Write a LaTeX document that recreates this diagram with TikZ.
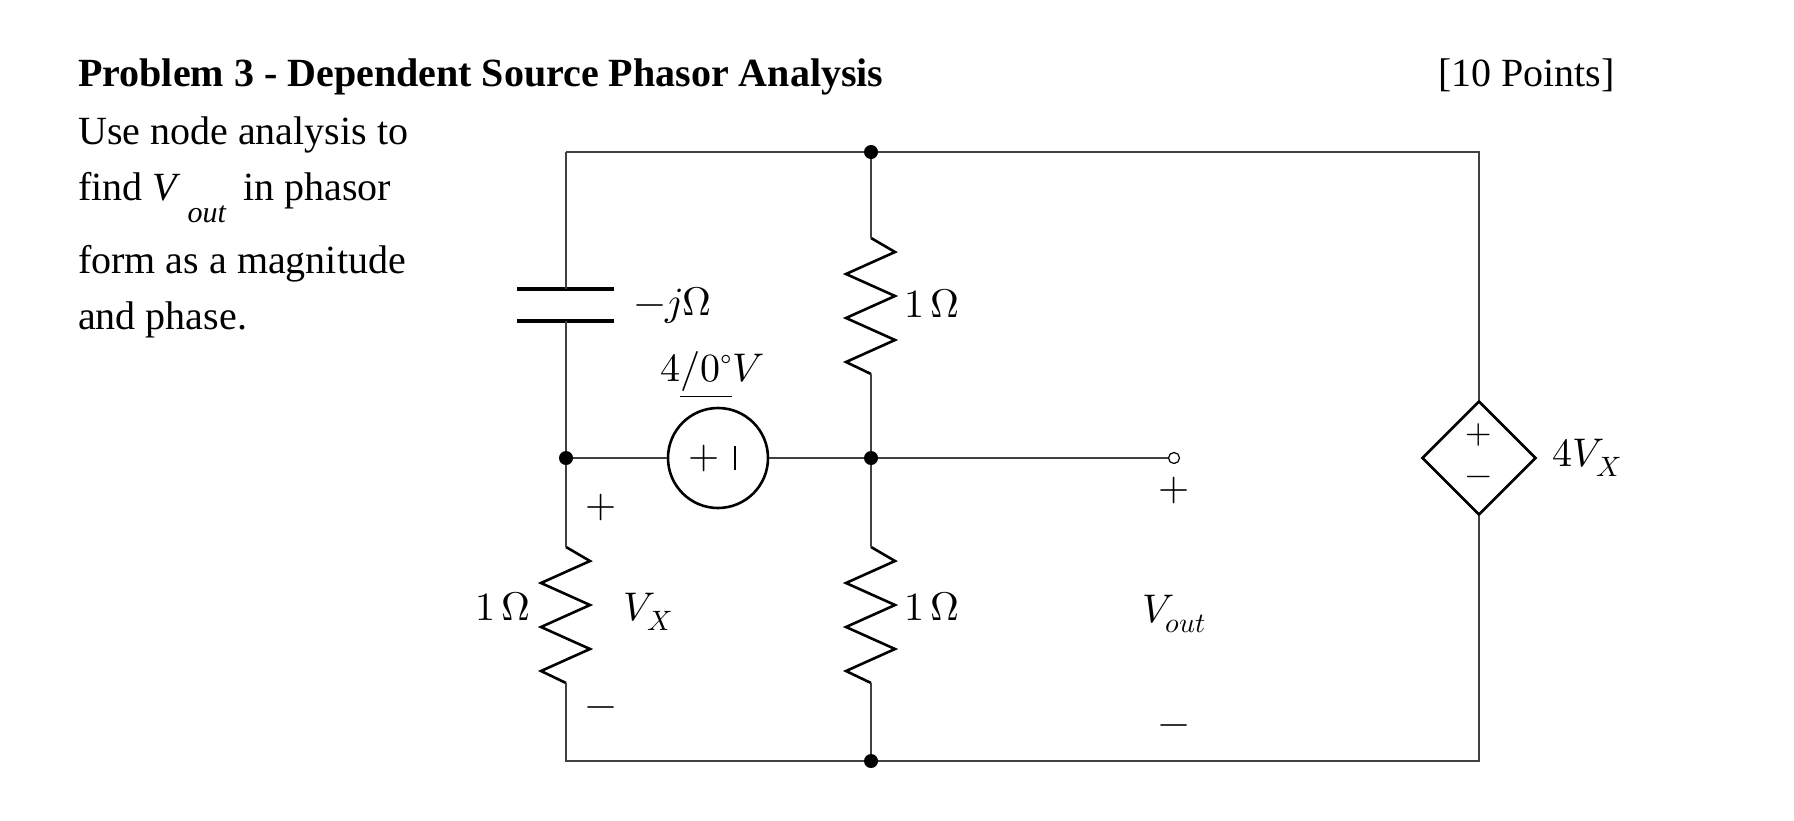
\documentclass[tikz,border=0pt]{standalone}
\usepackage{fontspec}
\setmainfont{Liberation Serif}
\usepackage{unicode-math}
\setmathfont{Latin Modern Math}
\usetikzlibrary{shapes.geometric}
\begin{document}
\begin{tikzpicture}[x=1pt,y=-1pt,
  wire/.style={line width=1.3pt,black!75},
  comp/.style={line width=2.6pt,black},
  dot/.style={circle,fill=black,inner sep=0pt,minimum size=14pt},
  lab/.style={font=\fontsize{40}{44}\selectfont,inner sep=0pt},
  txt/.style={font=\fontsize{40}{44}\selectfont,anchor=base west,inner sep=0pt}]
\useasboundingbox (0,0) rectangle (1794,820);
% text
\node[txt] at (78,86) {\textbf{Problem 3 - Dependent Source Phasor Analysis}};
\node[txt,anchor=base east] at (1615,86) {[10 Points]};
\node[txt] at (78,144) {Use node analysis to};
\node[txt] at (78,200) {find \textit{V}\,\raisebox{-0.55em}{\fontsize{30}{32}\selectfont\textit{out}}\, in phasor};
\node[txt] at (78,273) {form as a magnitude};
\node[txt] at (78,329) {and phase.};
% coordinates
\coordinate (TL) at (566,152); \node[dot] (TM) at (871,152) {}; \coordinate (TR) at (1479,152);
\node[dot] (ML) at (566,458) {}; \node[dot] (MM) at (871,458) {};
\coordinate (BL) at (566,761); \node[dot] (BM) at (871,761) {}; \coordinate (BR) at (1479,761);
\node[circle,draw,line width=2.6pt,minimum size=100pt,inner sep=0pt] (S) at (718,458) {};
\node[lab] at ([xshift=-14pt]S.center) {$+$};
\draw[line width=1.4pt] ([xshift=17pt,yshift=-12pt]S.center) -- ([xshift=17pt,yshift=12pt]S.center);
\node[diamond,draw,line width=2.6pt,minimum width=114pt,minimum height=114pt,inner sep=0pt] (D) at (1479,458) {};
\node[font=\fontsize{34}{36}\selectfont,inner sep=0pt] at (1479,435) {$+$};
\node[font=\fontsize{34}{36}\selectfont,inner sep=0pt] at (1479,481) {$-$};
\node[circle,draw,line width=1.2pt,minimum size=11pt,inner sep=0pt] (VO) at (1174,458) {};
% capacitor
\coordinate (C1) at (566,289); \coordinate (C2) at (566,321);
\draw[line width=4pt] (517,289) -- (614,289);
\draw[line width=4pt] (517,321) -- (614,321);
% resistor shape macro
\newcommand{\myres}[2]{%
 \draw[comp,line join=miter] (#1,#2) -- ++(24,14) -- ++(-49,22) -- ++(49,22) -- ++(-49,22) -- ++(49,22) -- ++(-49,22) -- ++(25,12);}
\myres{871}{238}
\myres{871}{547}
\myres{566}{547}
% wires
\draw[wire] (TL) -- (TM) -- (TR) -- (D.north);
\draw[wire] (D.south) -- (BR) -- (BM) -- (BL) -- (566,683);
\draw[wire] (TL) -- (C1); \draw[wire] (C2) -- (ML) -- (566,547);
\draw[wire] (ML) -- (S.west); \draw[wire] (S.east) -- (MM) -- (VO.west);
\draw[wire] (TM) -- (871,238); \draw[wire] (871,374) -- (MM) -- (871,547);
\draw[wire] (871,683) -- (BM);
% labels
\node[lab] at (673,305) {$-j\Omega$};
\node[lab] at (932,303) {$1\,\Omega$};
\node[lab] at (932,606) {$1\,\Omega$};
\node[lab] at (503,606) {$1\,\Omega$};
\node[lab] at (712,375) {$4\underline{/0^\circ}V$};
\node[lab] at (648,612) {$V_X$};
\node[lab] at (1587,458) {$4V_X$};
\node[lab] at (1174,614) {$V_{out}$};
\node[lab] at (601,507) {$+$};
\node[lab] at (601,712) {$-$};
\node[lab] at (1174,490) {$+$};
\node[lab] at (1174,730) {$-$};
\end{tikzpicture}
\end{document}
